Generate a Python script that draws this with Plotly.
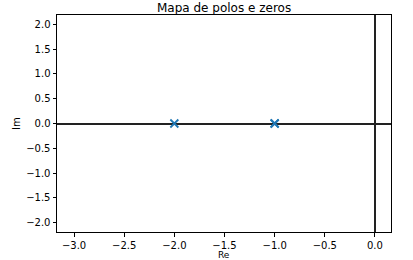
import plotly.graph_objects as go

# Poles (real, imaginary)
pole_re = [-2.0, -1.0, -1.0]
pole_im = [0.0, 0.0, 0.0]

x_ticks = [-3.0, -2.5, -2.0, -1.5, -1.0, -0.5, 0.0]
y_ticks = [-2.0, -1.5, -1.0, -0.5, 0.0, 0.5, 1.0, 1.5, 2.0]

title_text = "Mapa de polos e zeros"
x_label = "Re"
y_label = "Im"

fig = go.Figure()
fig.add_trace(go.Scatter(
    x=pole_re, y=pole_im, mode="markers",
    marker=dict(symbol="x-thin", size=8, color="#1f77b4",
                line=dict(color="#1f77b4", width=1.8)),
    showlegend=False, hoverinfo="skip",
))

font = dict(family="DejaVu Sans", size=10, color="black")
axis_common = dict(
    showgrid=False, showline=True, linecolor="black", linewidth=1, mirror=True,
    ticks="outside", ticklen=3.5, tickwidth=0.8, tickcolor="black",
    tickfont=font, tickformat=".1f", automargin=False,
    zeroline=True, zerolinecolor="#222222", zerolinewidth=1.6,
)

fig.update_layout(
    width=413, height=260, autosize=False,
    margin=dict(l=57, r=22, t=15, b=28, pad=0),
    paper_bgcolor="white", plot_bgcolor="white",
    xaxis=dict(range=[-3.17, 0.16], tickvals=x_ticks, **axis_common),
    yaxis=dict(range=[-2.19, 2.19], tickvals=y_ticks, **axis_common),
    annotations=[
        dict(text=title_text, xref="paper", yref="paper", x=0.5, y=1,
             yanchor="bottom", yshift=-1, borderpad=0, showarrow=False,
             font=dict(family="DejaVu Sans", size=12, color="black")),
        dict(text=x_label, xref="paper", yref="paper", x=0.5, y=0,
             yanchor="top", yshift=-17, borderpad=0, showarrow=False,
             font=dict(family="DejaVu Sans", size=9, color="black")),
        dict(text=y_label, xref="paper", yref="paper", x=0, y=0.5,
             xanchor="right", xshift=-33, textangle=-90, showarrow=False, font=font),
    ],
)

fig.write_html("out.html")
